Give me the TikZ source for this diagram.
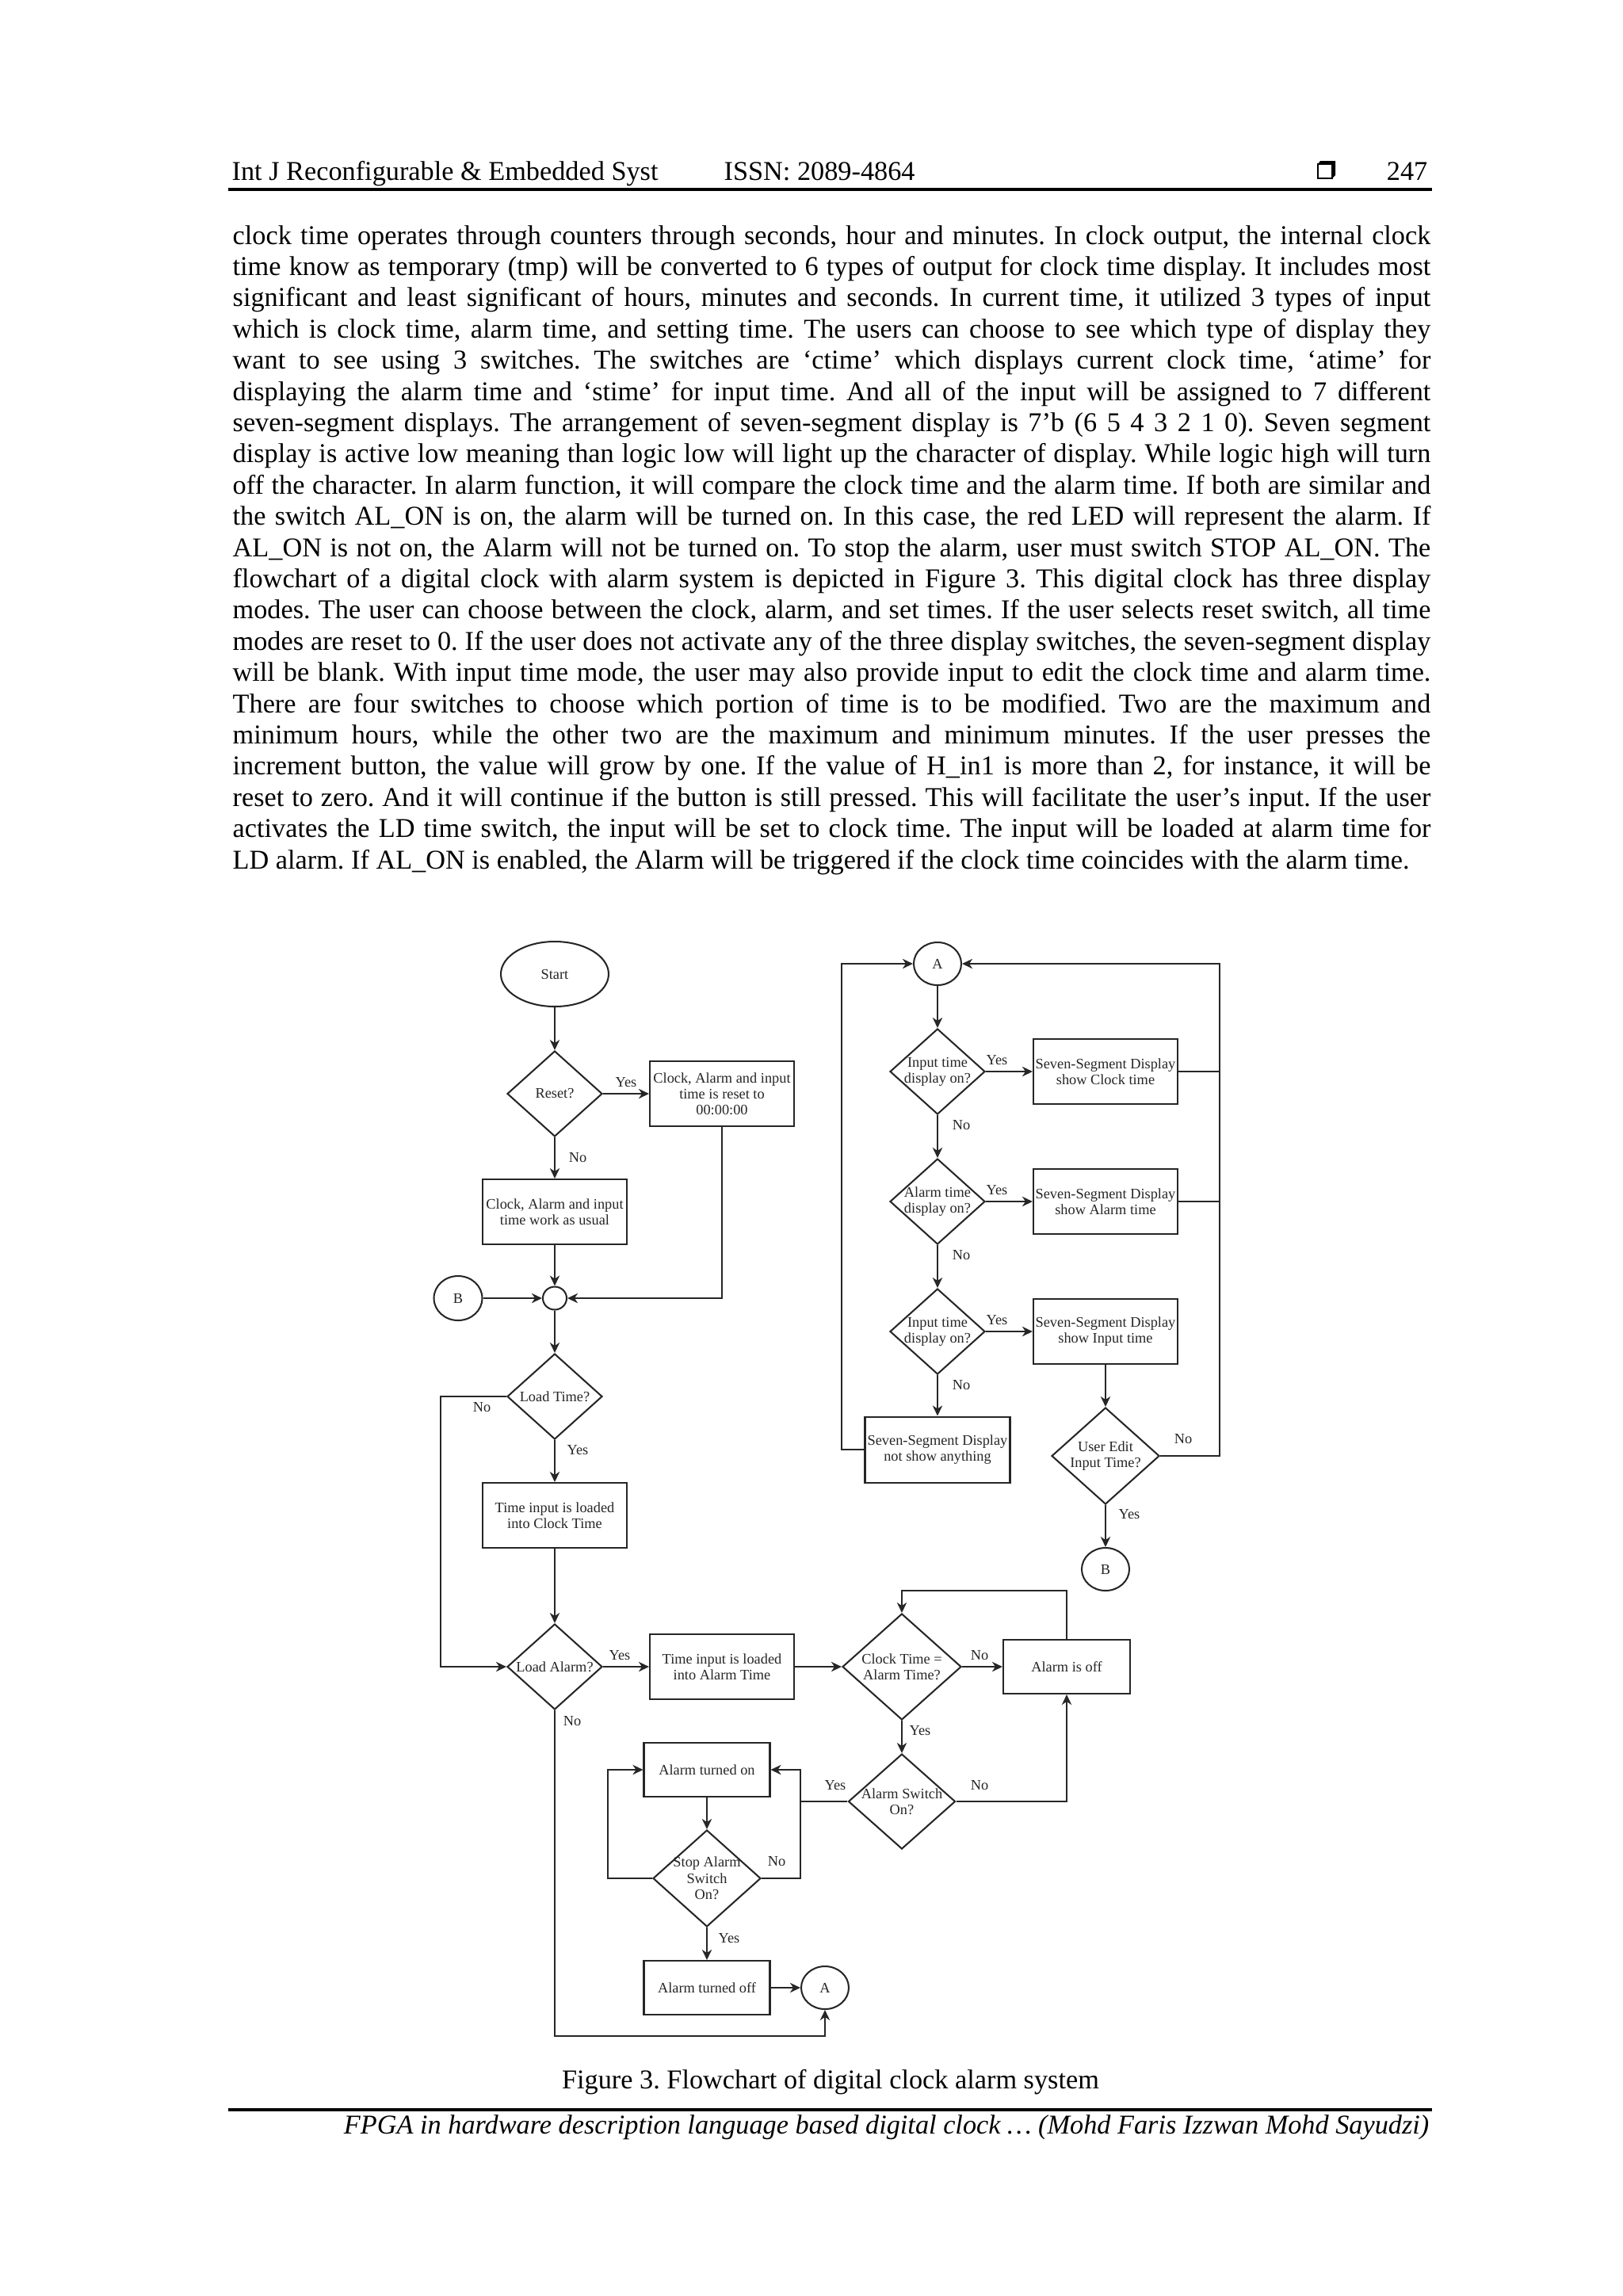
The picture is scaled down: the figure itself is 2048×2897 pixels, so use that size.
\documentclass[tikz,border=0pt]{standalone}
\usepackage{fontspec}
\setmainfont{Liberation Serif}
\usetikzlibrary{shapes.geometric,arrows.meta,calc}
\newdimen\pxu \pxu=0.1025390625mm
\frenchspacing
\tikzset{
 fc/.style={font=\fontsize{5.35pt}{5.8pt}\selectfont, align=center, text=black!85},
 boxn/.style={fc, draw=black!85, line width=0.6pt, rectangle, minimum width={182*\pxu}, minimum height={82*\pxu}, inner sep=0pt},
 dia/.style={draw=black!85, line width=0.6pt, diamond, inner sep=0pt, minimum width={120*\pxu}, minimum height={108*\pxu}},
 ell/.style={fc, draw=black!85, line width=0.6pt, ellipse, inner sep=0pt, minimum width={60*\pxu}, minimum height={54*\pxu}},
 lbl/.style={fc, inner sep=0pt},
 conn/.style={line width=0.6pt, draw=black!85, -{Stealth[length=3.8pt,width=3.6pt,inset=1.2pt]}},
 plain/.style={line width=0.6pt, draw=black!85},
 body/.style={font=\fontsize{10pt}{12pt}\selectfont\frenchspacing, inner sep=0pt, anchor=base west},
}
\newcommand\bodyline[2]{\node[body] (l#1) at (293,{308+(#1-1)*39.4}) {\makebox[155mm][s]{#2}};}
\begin{document}
\begin{tikzpicture}[x=0.1025390625mm,y=-0.1025390625mm]
\fill[white] (0,0) rectangle (2048,2897);
\useasboundingbox (0,0) rectangle (2048,2897);

% header
\node[body] (h1) at (292,227) {Int J Reconfigurable \& Embedded Syst};
\node[body] (h2) at (913,227) {ISSN: 2089-4864};
\node[body, anchor=base east] (h3) at (1802,227) {247};
\draw[line width=0.5pt] (1663,207) rectangle (1681,225);
\fill (1663,207) -- (1666,203) -- (1685,203) -- (1685,221) -- (1681,225) -- (1681,207) -- cycle;
\draw[line width=0.9pt] (288,239) -- (1807,239);

% body text
\bodyline{1}{clock time operates through counters through seconds, hour and minutes. In clock output, the internal clock}
\bodyline{2}{time know as temporary (tmp) will be converted to 6 types of output for clock time display. It includes most}
\bodyline{3}{significant and least significant of hours, minutes and seconds. In current time, it utilized 3 types of input}
\bodyline{4}{which is clock time, alarm time, and setting time. The users can choose to see which type of display they}
\bodyline{5}{want to see using 3 switches. The switches are ‘ctime’ which displays current clock time, ‘atime’ for}
\bodyline{6}{displaying the alarm time and ‘stime’ for input time. And all of the input will be assigned to 7 different}
\bodyline{7}{seven-segment displays. The arrangement of seven-segment display is 7’b (6 5 4 3 2 1 0). Seven segment}
\bodyline{8}{display is active low meaning than logic low will light up the character of display. While logic high will turn}
\bodyline{9}{off the character. In alarm function, it will compare the clock time and the alarm time. If both are similar and}
\bodyline{10}{the switch AL\_ON is on, the alarm will be turned on. In this case, the red LED will represent the alarm. If}
\bodyline{11}{AL\_ON is not on, the Alarm will not be turned on. To stop the alarm, user must switch STOP AL\_ON. The}
\bodyline{12}{flowchart of a digital clock with alarm system is depicted in Figure 3. This digital clock has three display}
\bodyline{13}{modes. The user can choose between the clock, alarm, and set times. If the user selects reset switch, all time}
\bodyline{14}{modes are reset to 0. If the user does not activate any of the three display switches, the seven-segment display}
\bodyline{15}{will be blank. With input time mode, the user may also provide input to edit the clock time and alarm time.}
\bodyline{16}{There are four switches to choose which portion of time is to be modified. Two are the maximum and}
\bodyline{17}{minimum hours, while the other two are the maximum and minimum minutes. If the user presses the}
\bodyline{18}{increment button, the value will grow by one. If the value of H\_in1 is more than 2, for instance, it will be}
\bodyline{19}{reset to zero. And it will continue if the button is still pressed. This will facilitate the user's input. If the user}
\bodyline{20}{activates the LD time switch, the input will be set to clock time. The input will be loaded at alarm time for}
\node[body] (l21) at (293,{308+20*39.4}) {LD alarm. If AL\_ON is enabled, the Alarm will be triggered if the clock time coincides with the alarm time.};

% caption and footer
\node[body, anchor=base] (cap) at (1048,2635) {Figure 3. Flowchart of digital clock alarm system};
\draw[line width=0.9pt] (288,2662) -- (1807,2662);
\node[body, anchor=base east] (foot) at (1804,2692) {\itshape FPGA in hardware description language based digital clock … (Mohd Faris Izzwan Mohd Sayudzi)};

% ---------- flowchart: left column
\node[ell, minimum width={136*\pxu}, minimum height={82*\pxu}] (start) at (700,1229) {Start};
\node[dia] (reset) at (700,1380) {};
\node[fc] (resetT) at (reset) {Reset?};
\node[boxn] (resetbox) at (911,1380) {Clock, Alarm and input\\time is reset to\\00:00:00};
\node[boxn] (usual) at (700,1529) {Clock, Alarm and input\\time work as usual};
\node[ell, minimum width={30*\pxu}, minimum height={29*\pxu}] (junc) at (700,1638) {};
\node[ell, minimum width={61*\pxu}, minimum height={56*\pxu}] (Bl) at (578,1638) {B};
\node[dia] (loadtime) at (700,1762) {};
\node[fc] (loadtimeT) at (loadtime) {Load Time?};
\node[boxn] (clockload) at (700,1912) {Time input is loaded\\into Clock Time};
\node[dia] (loadalarm) at (700,2103) {};
\node[fc] (loadalarmT) at (loadalarm) {Load Alarm?};
\node[boxn] (alarmload) at (911,2103) {Time input is loaded\\into Alarm Time};

% right column
\node[ell] (A) at (1183,1216) {A};
\node[dia] (d1) at (1183,1352) {};
\node[fc] (d1T) at (d1) {Input time\\display on?};
\node[boxn] (b1) at (1395,1352) {Seven-Segment Display\\show Clock time};
\node[dia] (d2) at (1183,1516) {};
\node[fc] (d2T) at (d2) {Alarm time\\display on?};
\node[boxn] (b2) at (1395,1516) {Seven-Segment Display\\show Alarm time};
\node[dia] (d3) at (1183,1680) {};
\node[fc] (d3T) at (d3) {Input time\\display on?};
\node[boxn] (b3) at (1395,1680) {Seven-Segment Display\\show Input time};
\node[boxn, minimum width={183*\pxu}, minimum height={83*\pxu}] (nothing) at (1183,1829) {Seven-Segment Display\\not show anything};
\node[dia, minimum width={136*\pxu}, minimum height={122*\pxu}] (useredit) at (1395,1837) {};
\node[fc] (usereditT) at (useredit) {User Edit\\Input Time?};
\node[ell] (B2) at (1395,1980) {B};

% bottom part
\node[dia, minimum width={150*\pxu}, minimum height={134*\pxu}] (clockeq) at (1138,2103) {};
\node[fc] (clockeqT) at (clockeq) {Clock Time =\\Alarm Time?};
\node[boxn, minimum width={160*\pxu}, minimum height={68*\pxu}] (alarmoff) at (1346,2103) {Alarm is off};
\node[dia, minimum width={135*\pxu}, minimum height={120*\pxu}] (alswitch) at (1138,2273) {};
\node[fc] (alswitchT) at (alswitch) {Alarm Switch\\On?};
\node[boxn, minimum width={159*\pxu}, minimum height={68*\pxu}] (alon) at (892,2233) {Alarm turned on};
\node[dia, minimum width={136*\pxu}, minimum height={122*\pxu}] (stop) at (892,2370) {};
\node[fc, font=\fontsize{5.35pt}{6pt}\selectfont] (stopT) at (stop) {Stop Alarm\\Switch\\On?};
\node[boxn, minimum width={159*\pxu}, minimum height={68*\pxu}] (aloff) at (892,2508) {Alarm turned off};
\node[ell] (A2) at (1041,2508) {A};

% helper coordinates
\coordinate (lt) at (556,1762);
\coordinate (bot) at (700,2569);
\coordinate (topc) at (1138,2007);
\coordinate (rx) at (1010,2233);
\coordinate (sl) at (767,2370);
\coordinate (rl) at (1539,1216);
\coordinate (ll) at (1062,1216);

% connectors left
\draw[conn] (start) -- (reset);
\draw[conn] (reset.east) -- (resetbox.west);
\draw[conn] (reset) -- (usual);
\draw[conn] (resetbox.south) |- (junc.east);
\draw[conn] (usual) -- (junc);
\draw[conn] (Bl) -- (junc);
\draw[conn] (junc) -- (loadtime);
\draw[conn] (loadtime.west) -- (lt) |- (loadalarm.west);
\draw[conn] (loadtime) -- (clockload);
\draw[conn] (clockload) -- (loadalarm);
\draw[conn] (loadalarm.east) -- (alarmload.west);
\draw[conn] (loadalarm.south) -- (bot) -| (A2.south);
% bottom
\draw[conn] (alarmload.east) -- (clockeq.west);
\draw[conn] (clockeq.east) -- (alarmoff.west);
\draw[conn] (alarmoff.north) |- (topc) -- (clockeq.north);
\draw[conn] (clockeq) -- (alswitch);
\draw[conn] (alswitch.east) -| (alarmoff.south);
\draw[conn] (alswitch.west) -| (rx) -- (alon.east);
\draw[plain] (stop.east) -| (rx |- alswitch.west);
\draw[conn] (alon) -- (stop);
\draw[conn] (stop.west) -- (sl) |- (alon.west);
\draw[conn] (stop) -- (aloff);
\draw[conn] (aloff) -- (A2);
% right
\draw[conn] (A) -- (d1);
\draw[conn] (d1) -- (d2);
\draw[conn] (d2) -- (d3);
\draw[conn] (d3) -- (nothing);
\draw[conn] (d1.east) -- (b1.west);
\draw[conn] (d2.east) -- (b2.west);
\draw[conn] (d3.east) -- (b3.west);
\draw[plain] (b1.east) -- (b1.east -| rl);
\draw[plain] (b2.east) -- (b2.east -| rl);
\draw[conn] (useredit.east) -| (rl) -- (A.east);
\draw[conn] (b3) -- (useredit);
\draw[conn] (useredit) -- (B2);
\draw[conn] (nothing.west) -| (ll) -- (A.west);

% labels
\node[lbl] (y1) at (790,1366) {Yes};
\node[lbl] (n1) at (729,1461) {No};
\node[lbl] (n2) at (608,1776) {No};
\node[lbl] (y2) at (729,1830) {Yes};
\node[lbl] (y3) at (782,2089) {Yes};
\node[lbl] (n3) at (722,2172) {No};
\node[lbl] (y4) at (1258,1338) {Yes};
\node[lbl] (n4) at (1213,1420) {No};
\node[lbl] (y5) at (1258,1502) {Yes};
\node[lbl] (n5) at (1213,1584) {No};
\node[lbl] (y6) at (1258,1666) {Yes};
\node[lbl] (n6) at (1213,1748) {No};
\node[lbl] (n7) at (1493,1816) {No};
\node[lbl] (y7) at (1425,1911) {Yes};
\node[lbl] (n8) at (1236,2089) {No};
\node[lbl] (y8) at (1161,2184) {Yes};
\node[lbl] (y9) at (1054,2253) {Yes};
\node[lbl] (n9) at (1236,2253) {No};
\node[lbl] (n10) at (980,2349) {No};
\node[lbl] (y10) at (920,2446) {Yes};
\end{tikzpicture}
\end{document}
